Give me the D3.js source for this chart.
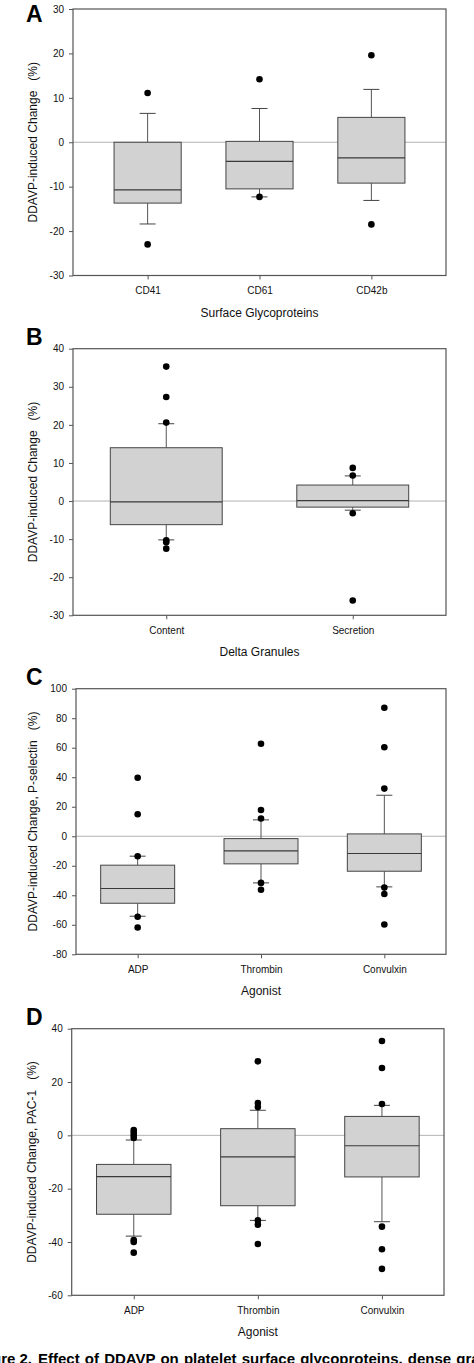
<!DOCTYPE html>
<html>
<head>
<meta charset="utf-8">
<title>DDAVP-induced change</title>
<script src="https://cdn.jsdelivr.net/npm/d3@7"></script>
<style>
  body { margin: 0; background: #fff; overflow: hidden; }
  svg { display: block; font-family: Arial, "Liberation Sans", sans-serif; }
</style>
</head>
<body>
<script>

// A - surface glycoproteins
var catsA = ["CD41", "CD61", "CD42b"];
var q1A  = [-13.7, -10.5, -9.2];
var medA = [-10.7, -4.3, -3.5];
var q3A  = [0.0, 0.2, 5.6];
var loA  = [-18.4, -12.3, -13.1];
var hiA  = [6.5, 7.6, 11.9];
var outA = [[11.1, -23.0], [14.2, -12.3], [19.6, -18.5]];
var ticksA = [-30, -20, -10, 0, 10, 20, 30];

// B - delta granules
var catsB = ["Content", "Secretion"];
var q1B  = [-6.2, -1.6];
var medB = [-0.2, 0.1];
var q3B  = [14.0, 4.2];
var loB  = [-10.2, -2.4];
var hiB  = [20.3, 6.6];
var outB = [[35.3, 27.3, 20.6, -10.3, -10.8, -12.5], [8.7, 6.7, -3.2, -26.1]];
var ticksB = [-30, -20, -10, 0, 10, 20, 30, 40];

// C - P-selectin by agonist
var catsC = ["ADP", "Thrombin", "Convulxin"];
var q1C  = [-45.4, -18.7, -23.7];
var medC = [-35.4, -9.9, -11.7];
var q3C  = [-19.6, -1.6, 1.6];
var loC  = [-54.2, -31.6, -34.3];
var hiC  = [-13.5, 11.1, 27.8];
var outC = [[39.7, 14.9, -13.5, -54.6, -61.8],
            [62.7, 17.8, 12.0, -31.6, -36.3],
            [87.1, 60.3, 32.3, -34.8, -39.1, -59.8]];
var ticksC = [-80, -60, -40, -20, 0, 20, 40, 60, 80, 100];

// D - PAC-1 by agonist
var catsD = ["ADP", "Thrombin", "Convulxin"];
var q1D  = [-29.6, -26.4, -15.6];
var medD = [-15.5, -8.1, -3.9];
var q3D  = [-10.9, 2.5, 7.1];
var loD  = [-37.8, -31.9, -32.4];
var hiD  = [-1.75, 9.4, 11.25];
var outD = [[2.0, 1.0, 0.0, -1.0, -39.3, -40.0, -44.0],
            [27.75, 12.1, 10.6, -31.9, -33.5, -40.75],
            [35.4, 25.25, 11.75, -34.25, -42.75, -50.1]];
var ticksD = [-60, -40, -20, 0, 20, 40];

var W = 474, H = 1363;

var svg = d3.select("body").append("svg")
    .attr("width", W)
    .attr("height", H);

svg.append("rect").attr("width", W).attr("height", H).attr("fill", "#fff");

function panel(p) {
    var g = svg.append("g");

    var x = d3.scalePoint().domain(p.cats).range([p.x0, p.x1]).padding(p.pad);
    var y = d3.scaleLinear()
        .domain([p.ticks[0], p.ticks[p.ticks.length - 1]])
        .range([p.y1, p.y0]);
    var bw = x.step() * 0.6, cap = 16;

    var rows = p.cats.map(function (c, i) {
        return { cat: c, q1: p.q1[i], med: p.med[i], q3: p.q3[i], lo: p.lo[i], hi: p.hi[i], out: p.out[i] };
    });

    // zero reference
    g.append("line")
        .attr("x1", p.x0).attr("x2", p.x1)
        .attr("y1", y(0)).attr("y2", y(0))
        .attr("stroke", "#b3b3b3").attr("stroke-width", 1);

    var b = g.selectAll("g.box").data(rows).enter().append("g").attr("class", "box");

    b.append("line")
        .attr("x1", function (d) { return x(d.cat); }).attr("x2", function (d) { return x(d.cat); })
        .attr("y1", function (d) { return y(d.q3); }).attr("y2", function (d) { return y(d.hi); })
        .attr("stroke", "#555");
    b.append("line")
        .attr("x1", function (d) { return x(d.cat); }).attr("x2", function (d) { return x(d.cat); })
        .attr("y1", function (d) { return y(d.q1); }).attr("y2", function (d) { return y(d.lo); })
        .attr("stroke", "#555");
    b.append("line")
        .attr("x1", function (d) { return x(d.cat) - cap / 2; }).attr("x2", function (d) { return x(d.cat) + cap / 2; })
        .attr("y1", function (d) { return y(d.hi); }).attr("y2", function (d) { return y(d.hi); })
        .attr("stroke", "#444");
    b.append("line")
        .attr("x1", function (d) { return x(d.cat) - cap / 2; }).attr("x2", function (d) { return x(d.cat) + cap / 2; })
        .attr("y1", function (d) { return y(d.lo); }).attr("y2", function (d) { return y(d.lo); })
        .attr("stroke", "#444");

    b.append("rect")
        .attr("x", function (d) { return x(d.cat) - bw / 2; })
        .attr("width", bw)
        .attr("y", function (d) { return y(d.q3); })
        .attr("height", function (d) { return y(d.q1) - y(d.q3); })
        .attr("fill", "#d2d2d2")
        .attr("stroke", "#444").attr("stroke-width", 1);

    b.append("line")
        .attr("x1", function (d) { return x(d.cat) - bw / 2; }).attr("x2", function (d) { return x(d.cat) + bw / 2; })
        .attr("y1", function (d) { return y(d.med); }).attr("y2", function (d) { return y(d.med); })
        .attr("stroke", "#3a3a3a").attr("stroke-width", 1.2);

    b.selectAll("circle").data(function (d) {
            return d.out.map(function (v) { return { cat: d.cat, v: v }; });
        })
        .enter().append("circle")
        .attr("cx", function (d) { return x(d.cat); })
        .attr("cy", function (d) { return y(d.v); })
        .attr("r", 3.3)
        .attr("fill", "#000");

    // frame
    g.append("rect")
        .attr("x", p.x0).attr("y", p.y0)
        .attr("width", p.x1 - p.x0).attr("height", p.y1 - p.y0)
        .attr("fill", "none").attr("stroke", "#555").attr("stroke-width", 1.2);

    var ya = g.append("g")
        .attr("transform", "translate(" + p.x0 + ",0)")
        .call(d3.axisLeft(y).tickValues(p.ticks).tickSize(4).tickPadding(5).tickFormat(String));
    var xa = g.append("g")
        .attr("transform", "translate(0," + p.y1 + ")")
        .call(d3.axisBottom(x).tickSize(4).tickPadding(7.5));
    [ya, xa].forEach(function (a) {
        a.select(".domain").remove();
        a.selectAll(".tick line").attr("stroke", "#555");
        a.selectAll("text").attr("fill", "#111").style("font-size", "10px").style("font-family", null);
    });

    g.append("text")
        .attr("x", (p.x0 + p.x1) / 2).attr("y", p.y1 + 41)
        .attr("text-anchor", "middle")
        .style("font-size", "12px").attr("fill", "#111")
        .text(p.xTitle);

    g.append("text")
        .attr("transform", "translate(" + p.yx + "," + (p.y0 + p.y1) / 2 + ") rotate(-90)")
        .attr("text-anchor", "middle").attr("dy", "0.35em")
        .style("font-size", "12px").style("white-space", "pre").attr("fill", "#111")
        .text(p.yTitle);

    g.append("text")
        .attr("x", 26).attr("y", p.letterY)
        .style("font-size", "23px").style("font-weight", "bold").attr("fill", "#000")
        .text(p.letter);
}

panel({ letter: "A", letterY: 22, cats: catsA, q1: q1A, med: medA, q3: q3A, lo: loA, hi: hiA, out: outA,
        ticks: ticksA, pad: 0.667, x0: 73, x1: 446, y0: 9, y1: 275.5, yx: 33,
        xTitle: "Surface Glycoproteins", yTitle: "DDAVP-induced Change   (%)" });

panel({ letter: "B", letterY: 345, cats: catsB, q1: q1B, med: medB, q3: q3B, lo: loB, hi: hiB, out: outB,
        ticks: ticksB, pad: 0.5, x0: 73, x1: 446, y0: 348.7, y1: 615.3, yx: 33,
        xTitle: "Delta Granules", yTitle: "DDAVP-induced Change   (%)" });

panel({ letter: "C", letterY: 685, cats: catsC, q1: q1C, med: medC, q3: q3C, lo: loC, hi: hiC, out: outC,
        ticks: ticksC, pad: 0.5, x0: 76, x1: 446, y0: 688.7, y1: 954.3, yx: 33,
        xTitle: "Agonist", yTitle: "DDAVP-induced Change, P-selectin   (%)" });

panel({ letter: "D", letterY: 1025, cats: catsD, q1: q1D, med: medD, q3: q3D, lo: loD, hi: hiD, out: outD,
        ticks: ticksD, pad: 0.5, x0: 71.7, x1: 444, y0: 1028.7, y1: 1295.3, yx: 32,
        xTitle: "Agonist", yTitle: "DDAVP-induced Change, PAC-1   (%)" });

// caption, cut off by the bottom edge like in the source
svg.append("text")
    .attr("x", 32).attr("y", 1364)
    .attr("text-anchor", "end")
    .style("font-size", "15px").style("font-weight", "bold")
    .text("Figure 2.");
svg.append("text")
    .attr("x", 38).attr("y", 1364)
    .style("font-size", "15px").style("font-weight", "bold")
    .style("word-spacing", "1px")
    .text("Effect of DDAVP on platelet surface glycoproteins, dense granules");

</script>
</body>
</html>
